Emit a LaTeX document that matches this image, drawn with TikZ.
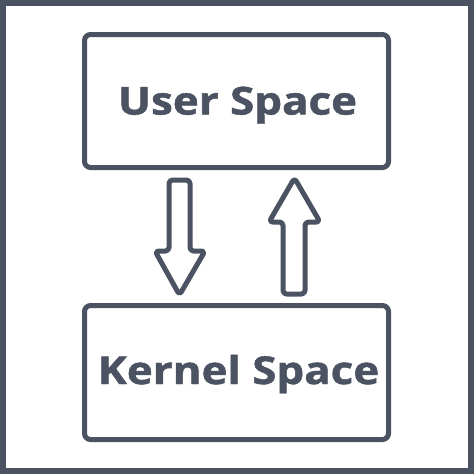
\documentclass[tikz,border=0pt]{standalone}
\usepackage{fontspec}
\newfontfamily\labfont{Open Sans}[BoldFeatures={FakeBold=1.2}]
\definecolor{ink}{RGB}{75,82,97}
\begin{document}
\begin{tikzpicture}[x=1pt,y=-1pt,
  frame/.style={draw=ink,line width=6pt},
  spacebox/.style={draw=ink,line width=5pt,rounded corners=6pt,line join=round},
  blockarrow/.style={draw=ink,line width=5pt,rounded corners=3.5pt,line join=round},
  lab/.style={text=ink,font=\labfont\bfseries\fontsize{38.5}{42}\selectfont,inner sep=0pt,anchor=base,xscale=1.14}]
\useasboundingbox (0,0) rectangle (474,474);
\draw[frame] (3,3) rectangle (471,471);
\draw[spacebox] (84.5,34.5) rectangle (388.5,167.5);
\draw[spacebox] (84.5,305.5) rectangle (388.5,439.5);
\node[lab] (user) at (237.5,114.5) {User Space};
\node[lab] (kernel) at (238.5,384) {Kernel Space};
% down arrow
\draw[blockarrow] (169,180) -- (190,180) -- (190,251) -- (205,251) -- (179.5,295) -- (155,251) -- (169,251) -- cycle;
% up arrow
\draw[blockarrow] (283,294) -- (305,294) -- (305,222) -- (320,222) -- (294.5,178) -- (269,222) -- (283,222) -- cycle;
\end{tikzpicture}
\end{document}
